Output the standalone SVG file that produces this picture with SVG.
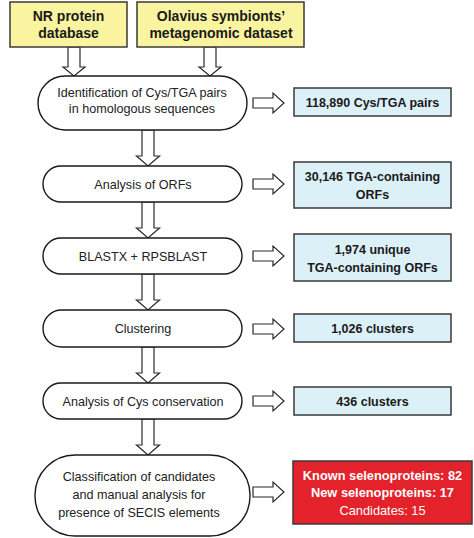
<svg xmlns="http://www.w3.org/2000/svg" width="474" height="538" viewBox="0 0 474 538">
<style>
.src{fill:#faf4a0;stroke:#3a3a3a;stroke-width:1.5}
.proc{fill:#fff;stroke:#1a1a1a;stroke-width:1.4}
.res{fill:#dcf0f8;stroke:#3a3a3a;stroke-width:1.5}
.red{fill:#e3222b;stroke:#3a3a3a;stroke-width:1.5}
.arr{fill:#fff;stroke:#2a2a2a;stroke-width:1.2;stroke-linejoin:miter}
text{font-family:"Liberation Sans",Arial,sans-serif;text-anchor:middle}
.tb{font-size:14px;font-weight:bold;fill:#1a1a1a}
.tn{font-size:12.6px;fill:#222}
.tr{font-size:12.5px;font-weight:bold;fill:#1a1a1a}
.tw{font-size:12.8px;fill:#fff}
</style>
<defs>
<path id="down36" d="M-6,0 V26 H-11.5 L0,36 L11.5,26 H6 V0 Z"/>
<path id="down29" d="M-6,0 V20 H-11 L0,29 L11,20 H6 V0 Z"/>
<path id="right" d="M0,-5 H20 V-10 L31,0 L20,10 V5 H0 Z"/>
</defs>

<g id="connectors" class="arr">
<use href="#down29" x="74" y="47"/>
<use href="#down29" x="210" y="47"/>
<use href="#down36" x="148" y="130"/>
<use href="#down36" x="148" y="202"/>
<use href="#down36" x="148" y="274"/>
<use href="#down36" x="148" y="347"/>
<use href="#down36" x="148" y="419"/>
<use href="#right" x="253" y="103"/>
<use href="#right" x="253" y="184"/>
<use href="#right" x="253" y="256"/>
<use href="#right" x="253" y="329"/>
<use href="#right" x="253" y="401"/>
<use href="#right" x="253" y="492"/>
</g>

<g id="nr">
<rect class="src" x="10" y="2" width="117" height="45"/>
<text class="tb" x="68.5" y="21">NR protein</text>
<text class="tb" x="68.5" y="38">database</text>
</g>
<g id="olavius">
<rect class="src" x="137" y="2" width="167" height="45"/>
<text class="tb" x="221" y="21">Olavius symbionts’</text>
<text class="tb" x="221" y="38">metagenomic dataset</text>
</g>

<g id="n1">
<rect class="proc" x="38" y="76" width="209" height="54" rx="27" ry="27"/>
<text class="tn" x="142" y="97">Identification of Cys/TGA pairs</text>
<text class="tn" x="142" y="113">in homologous sequences</text>
</g>
<g id="n2">
<rect class="proc" x="43" y="166" width="199" height="36" rx="18" ry="18"/>
<text class="tn" x="143" y="188.5">Analysis of ORFs</text>
</g>
<g id="n3">
<rect class="proc" x="43" y="238" width="199" height="36" rx="18" ry="18"/>
<text class="tn" x="143" y="260.5">BLASTX + RPSBLAST</text>
</g>
<g id="n4">
<rect class="proc" x="43" y="310" width="199" height="37" rx="18.5" ry="18.5"/>
<text class="tn" x="143" y="333">Clustering</text>
</g>
<g id="n5">
<rect class="proc" x="43" y="383" width="199" height="36" rx="18" ry="18"/>
<text class="tn" x="143" y="405.5">Analysis of Cys conservation</text>
</g>
<g id="n6">
<rect class="proc" x="35" y="455" width="215" height="81" rx="40" ry="40"/>
<text class="tn" x="139" y="481">Classification of candidates</text>
<text class="tn" x="139" y="499">and manual analysis for</text>
<text class="tn" x="139" y="517">presence of SECIS elements</text>
</g>

<g id="r1">
<rect class="res" x="294" y="88" width="157" height="28"/>
<text class="tr" x="372.5" y="106.5">118,890 Cys/TGA pairs</text>
</g>
<g id="r2">
<rect class="res" x="294" y="162" width="157" height="46"/>
<text class="tr" x="372.5" y="181">30,146 TGA-containing</text>
<text class="tr" x="372.5" y="199">ORFs</text>
</g>
<g id="r3">
<rect class="res" x="294" y="234" width="157" height="47"/>
<text class="tr" x="372.5" y="253.5">1,974 unique</text>
<text class="tr" x="372.5" y="271.5">TGA-containing ORFs</text>
</g>
<g id="r4">
<rect class="res" x="294" y="314" width="157" height="28"/>
<text class="tr" x="372.5" y="332.5">1,026 clusters</text>
</g>
<g id="r5">
<rect class="res" x="294" y="387" width="157" height="28"/>
<text class="tr" x="372.5" y="405.5">436 clusters</text>
</g>
<g id="r6">
<rect class="red" x="293" y="461" width="179" height="63"/>
<text class="tw" x="382.5" y="480" font-weight="bold">Known selenoproteins: 82</text>
<text class="tw" x="382.5" y="497" font-weight="bold">New selenoproteins: 17</text>
<text class="tw" x="382.5" y="515">Candidates: 15</text>
</g>
</svg>
